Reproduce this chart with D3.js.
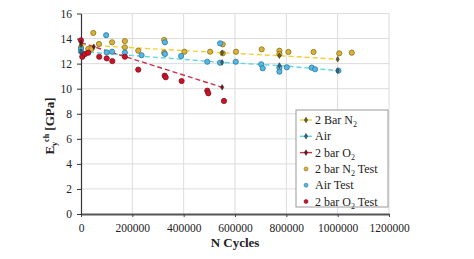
<!DOCTYPE html>
<html>
<head>
<meta charset="utf-8">
<script src="https://cdn.jsdelivr.net/npm/d3@7"></script>
<style>
  body { margin: 0; background: #fff; }
</style>
</head>
<body>
<script>
// ---- data ----
// fitted series (dashed line + dark diamond markers): [cycles, GPa]
const n2Fit  = [[0, 13.5], [550000, 12.87], [773000, 12.63], [1000000, 12.35]];
const airFit = [[0, 12.96], [550000, 12.1], [773000, 11.85], [1000000, 11.44]];
const o2Fit  = [[0, 13.67], [50000, 13.35], [550000, 10.11]];

// measured test points
const n2Test = [[0, 13.3], [28000, 13.17], [41000, 13.17], [48000, 14.45], [70000, 13.57],
  [121000, 13.7], [171000, 13.8], [171000, 13.3], [223000, 13.03], [324000, 13.89],
  [324000, 12.87], [403000, 12.95], [503000, 12.95], [552000, 13.54], [552000, 12.82],
  [604000, 12.95], [704000, 13.14], [773000, 13.03], [773000, 12.77], [808000, 12.93],
  [906000, 12.93], [1006000, 12.82], [1055000, 12.87]];
const airTest = [[0, 13.17], [0, 12.95], [9000, 12.69], [98000, 14.27], [100000, 12.9],
  [121000, 12.95], [171000, 12.88], [236000, 12.67], [327000, 13.7], [327000, 12.77],
  [390000, 12.61], [492000, 12.15], [542000, 13.62], [542000, 12.07], [603000, 12.15],
  [702000, 11.95], [708000, 11.63], [773000, 11.68], [773000, 11.36], [802000, 11.71],
  [899000, 11.68], [912000, 11.55], [1003000, 11.44]];
const o2Test = [[0, 13.86], [5000, 12.55], [15600, 12.77], [28000, 12.87], [71000, 12.55],
  [100000, 12.42], [122000, 12.2], [171000, 12.55], [223000, 11.52], [326000, 11.04],
  [330000, 10.91], [392000, 10.61], [492000, 9.84], [496000, 9.63], [557000, 9.02]];

const xTicks = [0, 200000, 400000, 600000, 800000, 1000000, 1200000];
const yTicks = [0, 2, 4, 6, 8, 10, 12, 14, 16];

// legend: label, subscript, suffix
const legendItems = [
  { name: ["2 Bar N", "2", ""], kind: "fit", line: "#f2cf3c", fill: "#6b6410" },
  { name: ["Air", "", ""], kind: "fit", line: "#5fd6e6", fill: "#2b6f80" },
  { name: ["2 bar O", "2", ""], kind: "fit", line: "#c8304a", fill: "#6e1420" },
  { name: ["2 bar N", "2", " Test"], kind: "test", fill: "#d8b23c", stroke: "#8a7416" },
  { name: ["Air Test", "", ""], kind: "test", fill: "#57b7e2", stroke: "#2a78a4" },
  { name: ["2 bar O", "2", " Test"], kind: "test", fill: "#c8142a", stroke: "#8c0d1a" }
];

const FONT = "'Liberation Serif', 'Times New Roman', 'DejaVu Serif', serif";
const W = 474, H = 259;
const margin = { top: 13.5, left: 81, right: W - 389, bottom: H - 214 };

const svg = d3.select("body").append("svg").attr("width", W).attr("height", H)
  .attr("font-family", FONT);

const x = d3.scaleLinear().domain([0, 1200000]).range([margin.left, W - margin.right]);
const y = d3.scaleLinear().domain([0, 16]).range([H - margin.bottom, margin.top]);

// grid
svg.append("g").selectAll("line").data(yTicks.slice(1)).join("line")
  .attr("x1", x(0)).attr("x2", x(1200000))
  .attr("y1", d => y(d)).attr("y2", d => y(d))
  .attr("stroke", "#dcdcdc").attr("stroke-width", 1);
svg.append("g").selectAll("line").data(xTicks.slice(1)).join("line")
  .attr("y1", y(0)).attr("y2", y(16))
  .attr("x1", d => x(d)).attr("x2", d => x(d))
  .attr("stroke", "#dcdcdc").attr("stroke-width", 1);

// axes
const gx = svg.append("g").attr("transform", `translate(0,${y(0)})`)
  .call(d3.axisBottom(x).tickValues(xTicks).tickFormat(d3.format("d")).tickSize(3).tickSizeOuter(0));
gx.attr("font-family", FONT);
gx.select(".domain").attr("stroke", "#555").attr("stroke-width", 2);
gx.selectAll(".tick line").attr("stroke", "#444");
gx.selectAll("text").attr("font-size", 11.5).attr("dy", "1.05em").attr("fill", "#222");

const gy = svg.append("g").attr("transform", `translate(${x(0)},0)`)
  .call(d3.axisLeft(y).tickValues(yTicks).tickSize(4).tickSizeOuter(0));
gy.attr("font-family", FONT);
gy.select(".domain").attr("stroke", "#333").attr("stroke-width", 1.2);
gy.selectAll(".tick line").attr("stroke", "#333");
gy.selectAll("text").attr("font-size", 11.5).attr("x", -9).attr("fill", "#222");

// axis titles
svg.append("text").attr("x", x(600000)).attr("y", 247)
  .attr("text-anchor", "middle").attr("font-size", 13).attr("font-weight", "bold")
  .attr("fill", "#222").text("N Cycles");

const yl = svg.append("text").attr("transform", "translate(54,126) rotate(-90)")
  .attr("text-anchor", "middle").attr("font-size", 13).attr("font-weight", "bold")
  .attr("fill", "#222");
yl.append("tspan").text("E");
yl.append("tspan").attr("font-size", 8).attr("dy", 3).text("y");
yl.append("tspan").attr("font-size", 8).attr("dy", -8).text("ch");
yl.append("tspan").attr("dy", 5).text(" [GPa]");

// fitted dashed lines with diamonds
const line = d3.line().x(d => x(d[0])).y(d => y(d[1]));
const diamond = d3.symbol().type(d3.symbolDiamond).size(9);
const fits = [n2Fit, airFit, o2Fit];
fits.forEach((data, i) => {
  const it = legendItems[i];
  svg.append("path").datum(data).attr("d", line)
    .attr("fill", "none").attr("stroke", it.line).attr("stroke-width", 1.4)
    .attr("stroke-dasharray", "5,3");
});

// test points
const tests = [n2Test, airTest, o2Test];
tests.forEach((data, i) => {
  const it = legendItems[i + 3];
  svg.append("g").selectAll("circle").data(data).join("circle")
    .attr("cx", d => x(d[0])).attr("cy", d => y(d[1])).attr("r", 2.6)
    .attr("fill", it.fill).attr("stroke", it.stroke).attr("stroke-width", 0.8);
});

fits.forEach((data, i) => {
  const it = legendItems[i];
  svg.append("g").selectAll("path").data(data).join("path")
    .attr("d", diamond).attr("transform", d => `translate(${x(d[0])},${y(d[1])})`)
    .attr("fill", it.fill).attr("stroke", "#222").attr("stroke-width", 0.5);
});

// legend
const lg = svg.append("g");
lg.append("rect").attr("x", 296).attr("y", 110).attr("width", 92).attr("height", 97)
  .attr("fill", "#fff").attr("stroke", "#9a9a9a").attr("stroke-width", 1);
legendItems.forEach((it, i) => {
  const cy = 120 + i * 16.3;
  const row = lg.append("g");
  if (it.kind === "fit") {
    row.append("line").attr("x1", 300).attr("x2", 312).attr("y1", cy).attr("y2", cy)
      .attr("stroke", it.line).attr("stroke-width", 1.4);
    row.append("path").attr("d", diamond).attr("transform", `translate(306,${cy})`)
      .attr("fill", it.fill).attr("stroke", "#222").attr("stroke-width", 0.5);
  } else {
    row.append("circle").attr("cx", 306).attr("cy", cy).attr("r", 2)
      .attr("fill", it.fill).attr("stroke", it.stroke).attr("stroke-width", 0.6);
  }
  const t = row.append("text").attr("x", 315).attr("y", cy + 4).attr("font-size", 12)
    .attr("fill", "#222");
  t.append("tspan").text(it.name[0]);
  if (it.name[1]) t.append("tspan").attr("font-size", 8).attr("dy", 3).text(it.name[1]);
  if (it.name[2]) t.append("tspan").attr("dy", -3).text(it.name[2]);
});
</script>
</body>
</html>
